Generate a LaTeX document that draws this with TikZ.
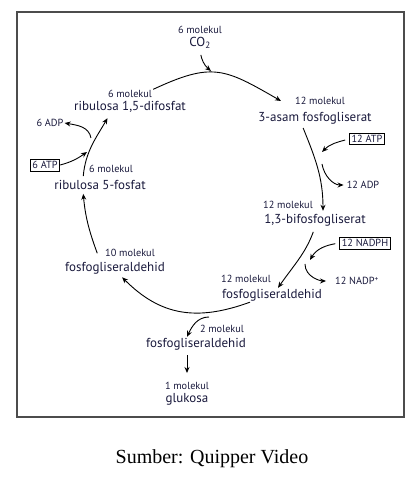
\documentclass[tikz,border=0pt]{standalone}
\usepackage{fontspec}
\setmainfont{PT Sans}
\newfontfamily\captionfont{Liberation Serif}
\usetikzlibrary{positioning}
\usetikzlibrary{calc}
\usetikzlibrary{arrows.meta}
\definecolor{inkblue}{RGB}{25,25,60}

\begin{document}
\begin{tikzpicture}[x=1pt, y=1pt, node distance=1pt, >={Stealth[length=6pt,width=5pt]},
	compound/.style={inner sep=1pt, text=inkblue, font=\fontsize{13}{15}\selectfont},
	amount/.style={inner sep=1pt, text=inkblue, font=\fontsize{10.3}{12}\selectfont},
	energybox/.style={draw, line width=0.8pt, inner sep=2.2pt, text=inkblue, font=\fontsize{10.3}{12}\selectfont},
	flow/.style={->, line width=0.9pt}]
			\useasboundingbox (0,0) rectangle (418,477);
			\draw[black!70, line width=1.4pt] (17,60) rectangle (404,465);
			% Nodes
			\node[compound] (co2) at (200,434) {CO\textsubscript{2}};
			\node[amount, above=of co2] (co2cnt) {6 molekul};
			\node[compound] (rubp) at (130,370) {ribulosa 1,5-difosfat};
			\node[amount, above=of rubp] (rubpcnt) {6 molekul};
			\node[compound] (pga) at (315,359) {3-asam fosfogliserat};
			\node[amount] (pgacnt) at (320,376) {12 molekul};
			\node[compound] (bpg) at (315,257) {1,3-bifosfogliserat};
			\node[amount] (bpgcnt) at (288,272) {12 molekul};
			\node[compound] (gap12) at (272,182) {fosfogliseraldehid};
			\node[amount] (gap12cnt) at (246,198) {12 molekul};
			\node[compound] (gap10) at (115,209) {fosfogliseraldehid};
			\node[amount] (gap10cnt) at (130,224) {10 molekul};
			\node[compound] (ru5p) at (100,292) {ribulosa 5-fosfat};
			\node[amount] (ru5pcnt) at (111,308) {6 molekul};
			\node[compound] (gap2) at (196,133) {fosfogliseraldehid};
			\node[amount] (gap2cnt) at (222,148) {2 molekul};
			\node[compound] (glc) at (187,78) {glukosa};
			\node[amount, above=of glc] (glccnt) {1 molekul};
			\node[energybox] (atp12) at (367,338) {12 ATP};
			\node[amount] (adp12) at (363,292) {12 ADP};
			\node[energybox] (nadph) at (365,234) {12 NADPH};
			\node[amount] (nadp) at (357,196) {12 NADP\textsuperscript{+}};
			\node[energybox] (atp6) at (45,312) {6 ATP};
			\node[amount] (adp6) at (50,354) {6 ADP};
			\node[font=\captionfont\fontsize{20}{24}\selectfont] (source) at (212,18) {Sumber: Quipper Video};
			% Points on the cycle
			\coordinate (co2in) at (211,406);
			\coordinate (atpin) at (322,325);
			\coordinate (adpout) at (322,313);
			\coordinate (nadpin) at (310,217);
			\coordinate (nadpout) at (305,213);
			\coordinate (gap2out) at (209,160);
			\coordinate (atp6in) at (87,325);
			\coordinate (adp6out) at (91,339);
			% Arrows
			\draw[flow, shorten <=5pt] (co2.south) to[out=-80, in=140] (co2in);
			\draw[flow] (rubpcnt.north east) to[out=25, in=150, looseness=1.3] ([xshift=-13pt]pgacnt.west);
			\draw[flow, shorten <=3pt, shorten >=2pt] ([xshift=-13pt]pga.south) to[out=-68, in=90] ([xshift=8pt]bpg.north);
			\draw[flow, shorten <=4pt] (atp12.west) to[out=195, in=45] (atpin);
			\draw[flow, shorten >=2pt] (adpout) to[out=-80, in=180] (adp12.west);
			\draw[flow, shorten <=5pt] (bpg.south) to[out=-110, in=55] ([xshift=6pt]gap12.north);
			\draw[flow, shorten <=4pt] (nadph.west) to[out=190, in=60] (nadpin);
			\draw[flow, shorten >=8pt] (nadpout) to[out=-90, in=180] (nadp.west);
			\draw[flow, shorten >=3pt] ([xshift=-22pt]gap12.south) to[out=-160, in=-45, looseness=1.1] ([xshift=5pt]gap10.south);
			\draw[flow, shorten <=8pt, shorten >=3pt] ([xshift=-15pt]gap10.north) to[out=110, in=-85] ([xshift=-17pt]ru5p.south);
			\draw[flow, shorten <=3pt, shorten >=5pt] ([xshift=-17pt]ru5p.north) to[out=85, in=-120] ([xshift=-20pt]rubp.south);
			\draw[flow] (atp6.east) to[out=15, in=-145] (atp6in);
			\draw[flow] (adp6out) to[out=100, in=-10] (adp6.east);
			\draw[flow] (gap2out) to[out=180, in=65] ([xshift=-9pt]gap2.north);
			\draw[flow, shorten <=4pt, shorten >=8pt] (gap2.south -| glccnt.north) -- (glccnt.north);
		\end{tikzpicture}
\end{document}
